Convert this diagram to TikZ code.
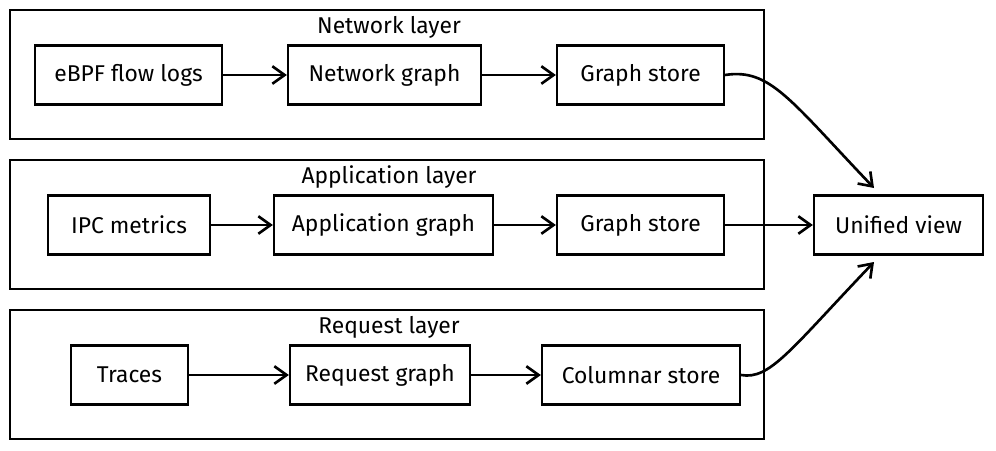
\documentclass[tikz,border=0pt]{standalone}
\usepackage{fontspec}
\setmainfont{Fira Sans}
\usetikzlibrary{arrows.meta}
\begin{document}
\begin{tikzpicture}[x=0.02cm,y=-0.02cm,
  box/.style={draw=black,line width=1.3pt,minimum height=1.18cm,inner sep=0pt,font=\fontsize{13}{15}\selectfont},
  layer/.style={draw=black,line width=1.1pt},
  ttl/.style={font=\fontsize{13}{15}\selectfont},
  arr/.style={line width=1.5pt,-{Straight Barb[length=7pt,width=10pt]}}]
\useasboundingbox (0,0) rectangle (996,450);
\draw[layer] (10,10) rectangle (764,139);
\node[ttl] (t1) at (389,27) {Network layer};
\draw[layer] (10,160) rectangle (764,289);
\node[ttl] (t2) at (389,177) {Application layer};
\draw[layer] (10,310) rectangle (764,439);
\node[ttl] (t3) at (389,327) {Request layer};

\node[box,minimum width=3.74cm] (a1) at (128.5,75) {eBPF flow logs};
\node[box,minimum width=3.86cm] (a2) at (384.5,75) {Network graph};
\node[box,minimum width=3.34cm] (a3) at (640.5,75) {Graph store};
\node[box,minimum width=3.24cm] (b1) at (129,225) {IPC metrics};
\node[box,minimum width=4.38cm] (b2) at (383.5,225) {Application graph};
\node[box,minimum width=3.34cm] (b3) at (640.5,225) {Graph store};
\node[box,minimum width=2.34cm] (c1) at (129.5,375) {Traces};
\node[box,minimum width=3.6cm] (c2) at (380,375) {Request graph};
\node[box,minimum width=3.96cm] (c3) at (641,375) {Columnar store};
\node[box,minimum width=3.38cm] (u) at (898.5,225) {Unified view};

\draw[arr] (a1) -- (a2);
\draw[arr] (a2) -- (a3);
\draw[arr] (b1) -- (b2);
\draw[arr] (b2) -- (b3);
\draw[arr] (c1) -- (c2);
\draw[arr] (c2) -- (c3);
\draw[arr] (b3) -- (u);
\draw[arr] (a3.east) .. controls (770,68) and (790,100) .. (874,188);
\draw[arr] (c3.east) .. controls (770,380) and (790,350) .. (874,262);
\end{tikzpicture}
\end{document}
